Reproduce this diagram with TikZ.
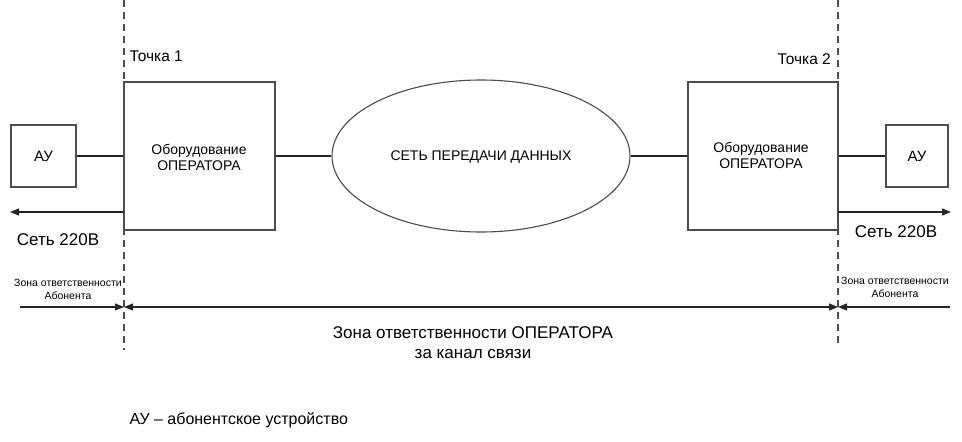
\documentclass[tikz,border=0pt]{standalone}
\usepackage{fontspec}
\setmainfont{Liberation Sans}
\usetikzlibrary{shapes.geometric,arrows.meta}
\begin{document}
\begin{tikzpicture}[x=1pt,y=-1pt,
  box/.style={draw,line width=1.1pt,draw=black!70,inner sep=0},
  ln/.style={draw=black!85,line width=1.2pt},
  dsh/.style={draw=black!70,line width=1.1pt,dash pattern=on 7pt off 5pt},
  arr/.style={-{Triangle[length=9pt,width=7pt]}},
  txt/.style={font=\fontsize{14}{16}\selectfont,align=center}]
\useasboundingbox (0,0) rectangle (962,442);
\node[box,minimum width=151pt,minimum height=148pt] (eq1) at (199.5,156) {};
\node[txt] (eq1t) at (199,157) {Оборудование\\ОПЕРАТОРА};
\node[box,minimum width=150pt,minimum height=148pt] (eq2) at (763,156) {};
\node[txt] (eq2t) at (761,155) {Оборудование\\ОПЕРАТОРА};
\node[box,minimum width=65pt,minimum height=62pt,font=\fontsize{15}{17}\selectfont] (au1) at (43.5,156) {АУ};
\node[box,minimum width=62pt,minimum height=62pt,font=\fontsize{15}{17}\selectfont] (au2) at (917,156) {АУ};
\node[box,ellipse,minimum width=298pt,minimum height=152pt] (net) at (481,156) {};
\node[txt] (nett) at (481,157) {СЕТЬ ПЕРЕДАЧИ ДАННЫХ};
\draw[ln] (au1.east) -- (eq1.west);
\draw[ln] (eq1.east) -- (net.west);
\draw[ln] (net.east) -- (eq2.west);
\draw[ln] (eq2.east) -- (au2.west);
\coordinate (d1t) at (124,0); \coordinate (d1b) at (124,350);
\coordinate (d2t) at (838,0); \coordinate (d2b) at (838,346);
\draw[dsh] (d1t) -- (d1b);
\draw[dsh] (d2t) -- (d2b);
\node[anchor=west,font=\fontsize{15.5}{17}\selectfont] (p1) at (126,56) {Точка 1};
\node[anchor=west,font=\fontsize{15.5}{17}\selectfont] (p2) at (774,59) {Точка 2};
\coordinate (a1s) at (124,212); \coordinate (a1e) at (10,212);
\coordinate (a2s) at (838,212); \coordinate (a2e) at (951,212);
\draw[ln,arr] (a1s) -- (a1e);
\draw[ln,arr] (a2s) -- (a2e);
\node[font=\fontsize{17}{19}\selectfont] (s1) at (58,240) {Сеть 220В};
\node[font=\fontsize{17}{19}\selectfont] (s2) at (896,232) {Сеть 220В};
\node[font=\fontsize{10.5}{13}\selectfont,align=center] (z1) at (68,289) {Зона ответственности\\Абонента};
\node[font=\fontsize{10.5}{13}\selectfont,align=center] (z2) at (895,287) {Зона ответственности\\Абонента};
\coordinate (b0) at (20,307); \coordinate (b1) at (124,307);
\coordinate (b2) at (838,307); \coordinate (b3) at (950,307);
\draw[ln,arr] (b0) -- (b1);
\draw[ln,{Triangle[length=9pt,width=7pt]}-{Triangle[length=9pt,width=7pt]}] (b1) -- (b2);
\draw[ln,arr] (b3) -- (b2);
\node[font=\fontsize{17}{20}\selectfont,align=center] (zo) at (473,343) {Зона ответственности ОПЕРАТОРА\\за канал связи};
\node[anchor=west,font=\fontsize{16}{18}\selectfont] (leg) at (126,420) {АУ – абонентское устройство};
\end{tikzpicture}
\end{document}
